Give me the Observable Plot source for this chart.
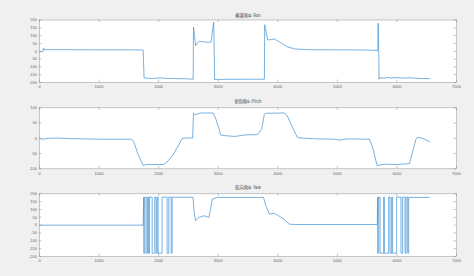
<!DOCTYPE html>
<html><head><meta charset="utf-8">
<script src="https://cdn.jsdelivr.net/npm/d3@7"></script>
<script src="https://cdn.jsdelivr.net/npm/@observablehq/plot@0.6"></script>
<style>
html,body{margin:0;padding:0;background:#f0f0f0;}
#c{width:474px;height:276px;background:#f0f0f0;overflow:hidden;}
#c svg{display:block;}
</style></head><body><div id="c"></div>
<script>
const titles = ["横滚角φ: Roll", "俯仰角θ: Pitch", "航向角ψ: Yaw"];
const xTicks = [0,1000,2000,3000,4000,5000,6000,7000];
const yTicks1 = [-200,-150,-100,-50,0,50,100,150,200];
const yTicks2 = [-100,-50,0,50,100];
const yTicks3 = [-200,-150,-100,-50,0,50,100,150,200];

const rollX = [0,60,70,80,100,500,1000,1500,1740,1755,1800,1900,2000,2100,2300,2500,2580,2585,2620,2680,2750,2850,2880,2910,2925,2940,3000,3400,3775,3780,3830,3900,3943,4050,4150,4280,4500,5000,5500,5670,5680,5685,5695,5700,5710,5800,5850,5900,6000,6100,6200,6300,6400,6545];
const rollY = [-5,0,20,10,10,10,9,9,8,-170,-172,-175,-170,-173,-175,-177,-179,155,36,64,60,57,60,150,185,-181,-180,-179,-179,170,72,75,79,55,30,15,10,9,8,5,2,179,0,-179,-170,-172,-168,-172,-168,-172,-170,-172,-174,-175];

const pitchX = [0,50,150,300,500,1000,1300,1538,1580,1650,1740,1800,2000,2083,2140,2250,2330,2400,2500,2570,2585,2620,2680,2750,2915,2960,3015,3040,3100,3272,3450,3660,3730,3775,3800,4110,4160,4260,4330,4390,4670,4950,5030,5170,5500,5540,5600,5666,5790,6000,6210,6320,6350,6430,6545];
const pitchY = [0,-3,0,1,-1,-3,-3,-3,-10,-50,-89,-86,-86,-86,-78,-52,-24,0,1,1,82,77,82,83,83,63,30,11,9,6,11,12,30,79,82,83,73,30,3,1,-2,-3,-6,-2,-3,-3,-35,-89,-85,-86,-83,-2,3,0,-11];

const yawX = [0,1740,1750,1750,1767,1767,1790,1790,1812,1812,1829,1829,1846,1846,1891,1891,1935,1935,1958,1958,1974,1974,1991,1991,2058,2058,2142,2142,2170,2170,2210,2210,2226,2226,2579,2590,2620,2676,2760,2844,2870,2900,2985,3760,3800,3860,3940,3995,4110,4160,4200,4300,5670,5677,5677,5694,5694,5717,5717,5777,5777,5789,5789,5861,5861,5884,5884,5911,5911,5928,5928,5995,5995,6068,6068,6096,6096,6136,6136,6153,6153,6180,6180,6197,6197,6545];
const yawY = [0,0,179,-179,-179,179,179,-179,-179,179,179,-179,-179,179,179,-179,-179,179,179,-179,-179,179,179,-179,-179,179,179,-179,-179,179,179,-179,-179,178,178,102,28,49,60,49,100,166,177,177,124,70,75,64,38,17,6,4,4,179,-179,-179,179,179,-179,-179,179,179,-179,-179,179,179,-179,-179,179,179,-179,-179,179,179,-179,-179,179,179,-179,-179,179,179,-179,-179,177,177];

const W = 474, ML = 39, MR = 18;
const lineColor = "#3d8fd1";
const fmt = d => String(d);
function panel(xs, ys, yDomain, yTicks, title, height, mt, mb, tdy) {
  const data = xs.map((x, i) => ({x, y: ys[i]}));
  const innerH = height - mt - mb;
  const innerW = W - ML - MR;
  return Plot.plot({
    width: W, height, marginLeft: ML, marginRight: MR, marginTop: mt, marginBottom: mb,
    style: {background: "transparent", fontFamily: "'Liberation Sans', 'DejaVu Sans', sans-serif", fontSize: "4px", color: "#666", overflow: "visible"},
    x: {domain: [0, 7000]},
    y: {domain: yDomain},
    marks: [
      Plot.frame({fill: "white", stroke: "none"}),
      Plot.line(data, {x: "x", y: "y", stroke: lineColor, strokeWidth: 0.7}),
      Plot.frame({stroke: "#a3a3a3", strokeWidth: 0.6}),
      Plot.tickX(xTicks, {x: d => d, insetTop: innerH - 2.5, stroke: "#888", strokeWidth: 0.5}),
      Plot.tickX(xTicks, {x: d => d, insetBottom: innerH - 2.5, stroke: "#888", strokeWidth: 0.5}),
      Plot.tickY(yTicks, {y: d => d, insetRight: innerW - 2.5, stroke: "#888", strokeWidth: 0.5}),
      Plot.tickY(yTicks, {y: d => d, insetLeft: innerW - 2.5, stroke: "#888", strokeWidth: 0.5}),
      Plot.axisX(xTicks, {tickSize: 0, tickPadding: 3, label: null, fill: "#666", tickFormat: fmt}),
      Plot.axisY(yTicks, {tickSize: 0, tickPadding: 2.5, label: null, fill: "#666", tickFormat: fmt}),
      Plot.text([title], {frameAnchor: "top", lineAnchor: "middle", dy: tdy, text: d => d, fontSize: 4.2, fill: "#444", fontFamily: "'Noto Sans CJK SC', sans-serif"})
    ]
  });
}
const c = document.getElementById("c");
c.append(panel(rollX, rollY, [-200, 200], yTicks1, titles[0], 95, 19.5, 13, -4.5));
c.append(panel(pitchX, pitchY, [-100, 100], yTicks2, titles[1], 85, 12.3, 11.7, -6.6));
c.append(panel(yawX, yawY, [-200, 200], yTicks3, titles[2], 96, 13.3, 20, -6));
</script></body></html>
